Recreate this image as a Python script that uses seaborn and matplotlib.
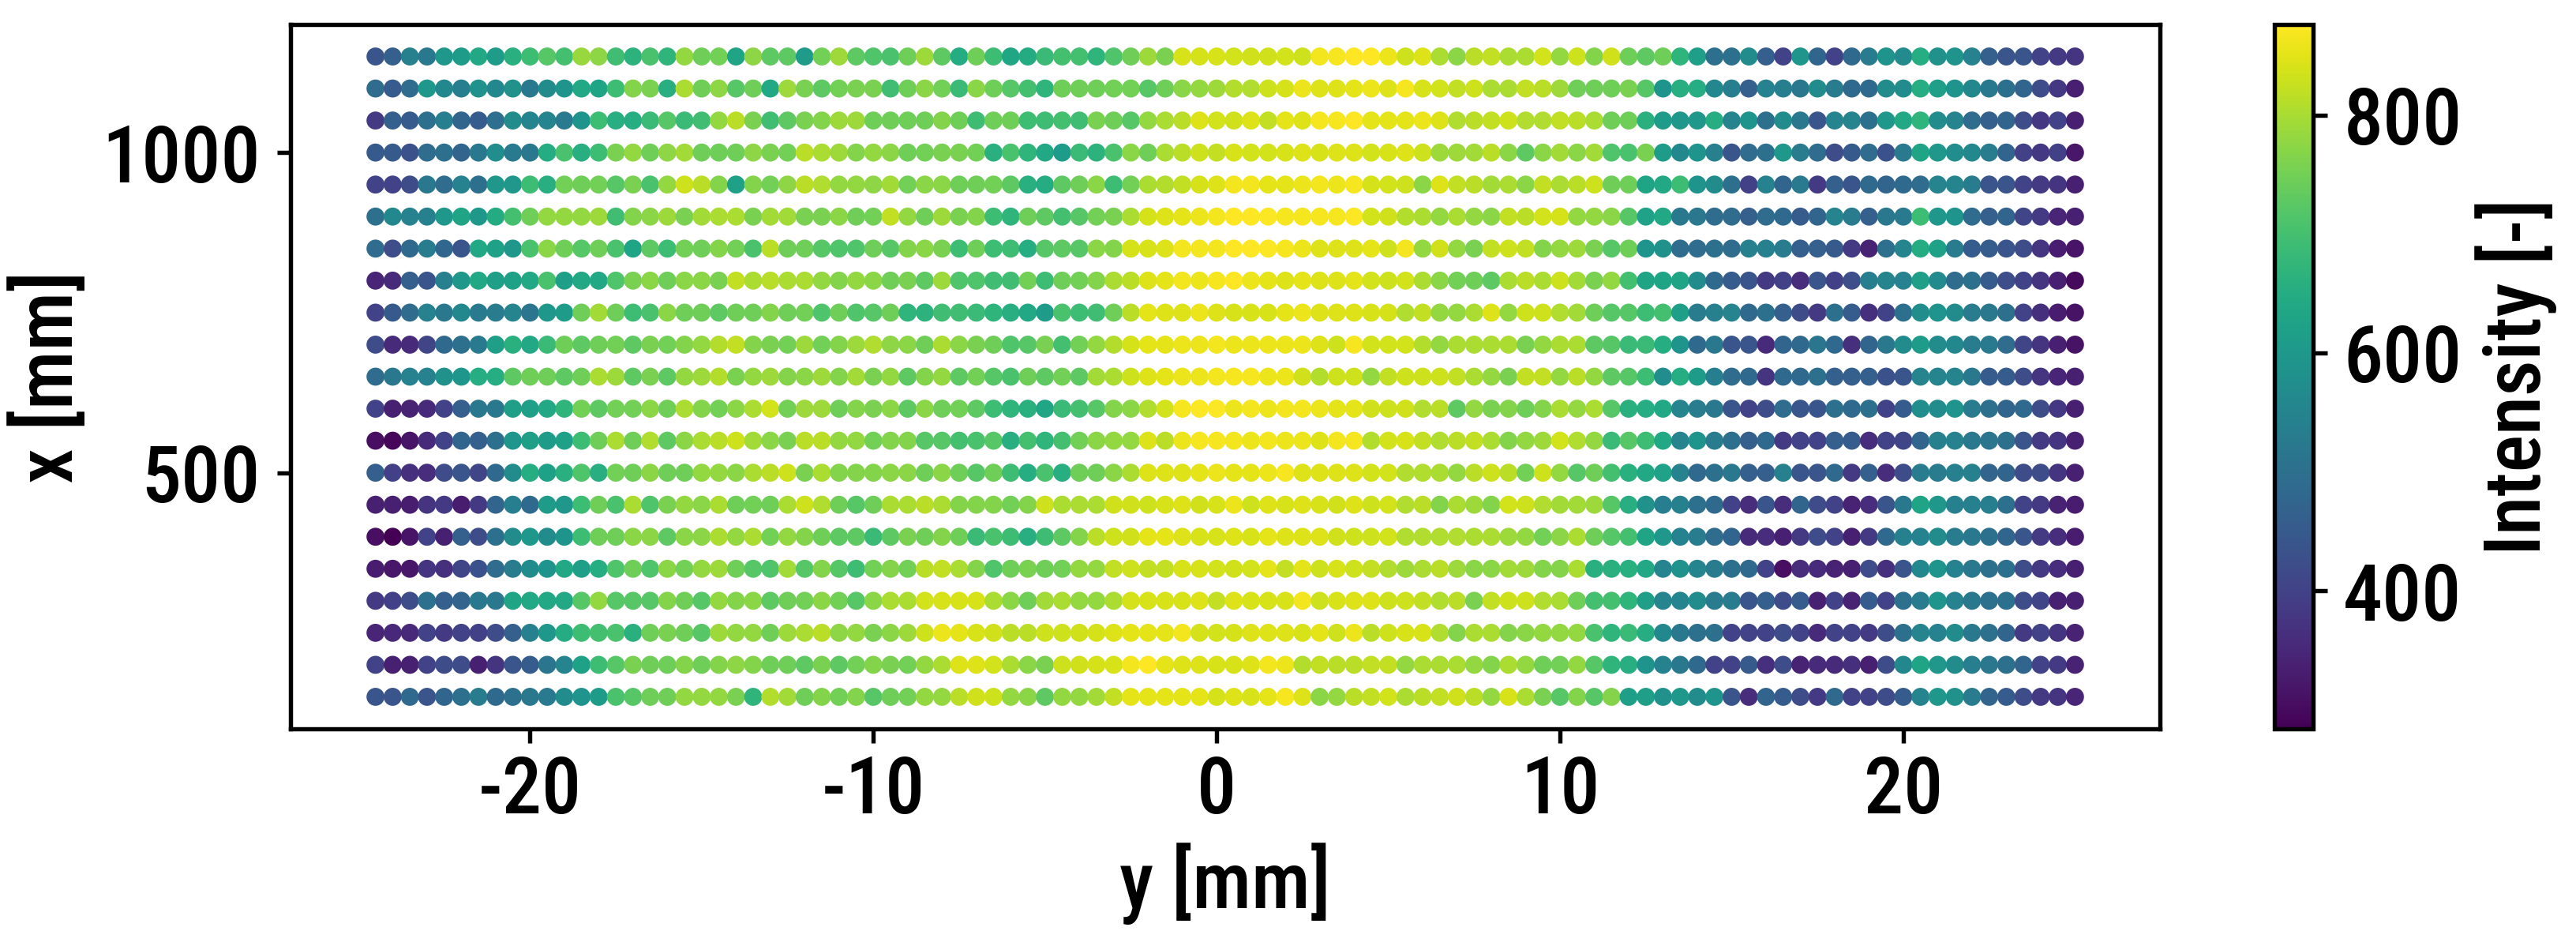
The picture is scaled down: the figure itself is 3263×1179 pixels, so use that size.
import numpy as np
import pandas as pd
import matplotlib
matplotlib.use("Agg")
import matplotlib.pyplot as plt
import seaborn as sns
from matplotlib import font_manager as fm

sns.set_style("white")

# pick a condensed / narrow sans face if one is installed (reference uses a DIN-like condensed face)
_cond = []
for f in fm.fontManager.ttflist:
    if f.style != "normal":
        continue
    nm = f.name
    st = str(f.stretch)
    is_cond = st in ("condensed", "semi-condensed", "extra-condensed", "ultra-condensed") \
        or "Condensed" in nm or "Narrow" in nm
    try:
        w = int(f.weight)
    except Exception:
        w = {"normal": 400, "regular": 400, "medium": 500, "book": 400}.get(str(f.weight), 700)
    if is_cond and 380 <= w <= 520:
        _cond.append((nm, st, w))
_pref = ["Liberation Sans Narrow", "Roboto Condensed", "Noto Sans", "Open Sans", "DejaVu Sans"]
_cond.sort(key=lambda t: (_pref.index(t[0]) if t[0] in _pref else 50, abs(t[2] - 450)))
if _cond:
    FAM, STRETCH = _cond[0][0], _cond[0][1]
    FS = 24
else:
    FAM, STRETCH = "Roboto", "normal"
    FS = 21
plt.rcParams["font.family"] = [FAM, "DejaVu Sans"]
plt.rcParams["font.stretch"] = STRETCH if STRETCH in (
    "condensed", "semi-condensed", "extra-condensed", "ultra-condensed", "normal") else "normal"
plt.rcParams["font.weight"] = "medium"
plt.rcParams["axes.labelweight"] = "medium"
plt.rcParams["axes.unicode_minus"] = False
for k in ("text.color", "axes.labelcolor", "xtick.color", "ytick.color"):
    plt.rcParams[k] = "black"

# ---- data ----
y_mm = np.arange(-24.5, 25.01, 0.5)          # 100 measurement columns
x_rows = [1150, 1100, 1050, 1000, 950, 900, 850, 800, 750, 700, 650,
          600, 550, 500, 450, 400, 350, 300, 250, 200, 150]

i_1150 = [440,460,540,520,600,610,640,610,660,690,720,700,785,775,695,665,705,670,780,745,750,630,775,730,
          730,610,750,790,730,712,705,745,790,730,648,745,690,635,645,685,700,700,670,712,745,790,758,840,838,840,
          835,833,833,835,830,865,868,876,876,858,830,845,800,773,815,822,800,800,835,780,830,765,833,745,730,
          745,670,615,500,500,570,460,400,595,475,400,485,530,590,565,650,580,590,545,460,440,440,400,385,375]
i_1100 = [490,455,490,600,560,535,580,560,580,520,570,590,640,630,690,765,758,655,800,745,775,720,745,640,
          790,758,730,750,758,758,695,745,772,750,685,773,745,720,700,670,745,745,745,750,750,720,745,773,780,790,
          808,805,830,838,858,845,845,852,858,845,868,840,835,822,830,800,800,822,815,790,745,745,745,758,720,
          590,655,650,560,535,460,545,535,520,570,530,485,485,570,570,650,615,590,560,520,500,475,420,380,335]
i_1050 = [385,460,455,500,535,475,455,495,570,550,550,525,590,690,655,650,685,720,685,695,780,815,758,695,
          730,758,765,790,790,745,745,745,745,765,745,692,745,745,690,692,700,695,758,745,720,780,800,815,845,835,
          833,845,822,852,845,868,868,876,852,852,852,858,845,805,815,822,830,805,805,822,815,800,745,745,660,
          610,600,600,650,550,590,500,570,520,440,550,550,500,600,640,670,570,550,490,460,475,420,380,400,335]
i_1000 = [450,450,430,490,500,475,520,575,525,520,648,705,655,690,758,780,745,775,795,745,745,745,775,758,
          750,815,800,790,765,780,773,745,750,758,758,750,660,705,670,640,610,685,665,705,773,745,800,815,830,822,
          840,835,835,840,845,840,845,845,835,840,845,830,790,790,795,815,773,730,773,795,773,795,712,705,758,
          610,560,590,540,440,490,500,600,530,490,420,450,490,430,525,630,600,575,560,530,475,395,380,395,320]
i_950 = [400,400,420,520,490,545,500,600,600,690,655,750,745,750,720,758,705,780,830,815,765,620,765,750,
         775,815,805,780,780,775,795,750,773,773,745,745,750,730,660,648,730,745,773,690,750,800,808,822,838,845,
         865,865,852,852,858,865,858,868,838,835,830,773,845,822,815,795,800,773,822,800,815,830,745,745,630,
         640,690,590,570,500,395,545,475,525,385,460,440,485,475,485,490,550,550,530,440,440,400,385,375,335]
i_900 = [500,560,545,540,600,630,600,645,700,745,780,780,780,790,695,765,773,790,758,795,800,800,758,795,
         795,758,758,773,745,750,822,780,745,790,758,765,690,670,745,730,700,720,750,758,800,838,845,852,858,865,
         874,874,872,868,868,868,868,872,835,833,808,800,780,800,780,773,822,815,835,838,780,780,773,720,625,
         640,520,520,490,490,460,490,485,455,475,550,530,460,520,525,690,600,590,490,460,475,405,385,345,335]
i_850 = [490,425,485,530,480,440,640,620,600,705,772,745,720,745,705,630,730,690,750,745,765,750,705,815,
         745,745,720,712,712,745,720,765,773,758,690,745,690,692,650,720,730,720,773,765,838,840,845,865,865,865,
         876,874,872,868,858,845,845,845,852,830,865,780,833,780,758,822,830,822,765,780,790,758,720,745,590,
         580,490,490,500,490,540,540,530,460,460,450,385,340,500,550,648,620,530,455,455,440,420,375,330,315]
i_800 = [345,355,460,440,540,600,640,615,620,640,705,615,640,640,712,758,773,745,773,773,758,822,800,812,
         800,800,780,765,780,773,745,758,730,790,712,712,695,695,750,690,745,750,765,800,815,845,852,865,858,868,
         874,858,852,845,852,845,845,852,835,830,835,800,773,750,745,730,800,815,800,830,795,758,780,700,630,
         630,630,570,485,455,440,385,395,360,440,395,425,535,550,545,615,565,490,500,455,425,400,375,335,300]
i_750 = [400,450,490,545,520,560,525,530,550,515,600,610,745,795,745,690,705,773,745,745,730,745,745,765,
         745,750,712,745,712,720,745,670,665,695,695,685,670,655,640,610,705,690,695,745,815,852,845,845,858,845,
         840,840,840,852,858,845,845,845,840,838,805,822,780,780,800,845,780,830,830,805,795,745,720,720,690,
         700,615,530,540,550,485,500,460,420,385,500,455,365,400,500,575,590,570,530,520,500,400,365,330,312]
i_700 = [420,355,355,405,485,500,525,615,660,640,685,745,730,745,750,730,758,750,765,780,808,822,765,758,
         750,790,750,765,790,805,775,773,745,800,773,758,745,712,720,758,700,750,780,808,838,852,852,858,858,865,
         858,858,858,858,858,845,830,868,835,835,835,808,780,800,800,800,800,758,780,800,800,730,720,685,685,
         650,590,485,520,440,440,355,475,485,515,485,365,475,520,570,610,570,560,530,525,490,405,375,335,312]
i_650 = [490,520,545,545,580,595,650,650,730,745,745,730,745,800,790,730,758,730,780,790,808,758,780,790,
         765,773,790,765,795,758,780,730,765,780,730,750,720,705,745,730,750,730,795,800,830,845,852,858,858,865,
         868,868,858,858,833,808,830,830,780,822,830,830,830,822,800,780,758,822,822,780,815,780,730,720,690,
         575,650,610,535,490,485,375,485,485,500,460,460,460,430,440,550,550,550,520,455,455,420,375,345,335]
i_600 = [400,335,340,355,400,460,520,520,615,615,640,670,750,730,750,750,773,745,800,765,750,773,800,835,
         750,790,790,745,765,758,773,730,773,745,750,730,690,670,660,635,685,700,720,765,773,805,835,868,872,872,
         858,865,858,865,865,858,852,852,833,830,833,805,815,730,780,758,765,745,765,800,780,800,720,660,650,
         640,550,530,520,440,400,420,490,440,440,500,485,500,400,455,575,570,590,530,500,475,485,420,380,335]
i_550 = [305,295,315,355,400,475,460,500,595,615,610,620,690,745,800,745,805,730,773,800,815,830,795,773,
         758,815,815,780,780,750,765,765,720,720,700,705,720,655,700,670,700,750,773,780,780,845,815,858,868,868,
         865,858,865,858,858,845,865,868,808,835,840,822,805,815,822,800,765,780,790,835,805,780,685,720,690,
         640,550,590,530,500,460,485,385,400,400,460,455,360,400,405,475,540,545,520,515,500,440,385,375,335]
i_500 = [460,395,365,360,420,440,405,485,570,650,620,660,712,655,750,745,773,745,745,780,780,773,800,815,
         830,758,800,765,765,765,773,773,745,773,745,720,745,692,650,705,655,745,745,773,800,845,845,845,852,858,
         852,852,858,868,845,845,845,845,835,835,805,805,800,780,815,830,815,750,830,780,720,745,700,660,640,
         625,545,485,500,520,460,460,540,440,440,485,385,460,360,420,530,530,540,540,475,475,420,420,375,335]
i_450 = [335,335,330,375,385,330,385,475,535,485,610,600,690,745,705,800,712,758,780,773,800,745,750,745,
         800,830,805,745,720,745,800,800,815,800,765,765,765,750,765,830,800,800,800,833,833,830,840,845,833,840,
         858,830,845,840,845,840,833,845,830,835,805,815,765,800,790,765,835,830,805,795,795,790,720,655,580,
         535,540,500,485,400,360,440,360,475,420,400,340,360,440,520,630,600,540,540,535,500,400,385,340,330]
i_400 = [305,285,315,400,335,460,420,500,570,600,570,590,690,745,745,773,773,730,773,773,800,780,800,750,
         780,765,745,730,730,685,730,758,745,765,745,685,705,692,655,692,730,765,815,830,833,852,852,845,840,840,
         845,840,852,845,845,845,833,830,830,835,805,805,805,805,800,800,790,780,750,773,800,745,720,700,630,
         600,545,530,490,475,355,360,335,385,420,400,335,385,485,540,545,570,530,520,500,475,440,385,360,330]
i_350 = [330,320,320,375,365,405,430,490,530,570,590,640,615,650,712,745,712,773,750,780,790,745,720,712,
         795,720,765,720,692,750,765,750,815,822,800,765,712,745,758,745,750,780,780,822,830,822,822,840,840,835,
         833,835,852,822,852,830,840,830,822,805,790,800,815,790,773,773,795,790,765,765,800,660,660,660,640,
         550,580,550,530,500,485,400,305,360,355,340,335,420,365,440,560,590,545,520,500,500,420,385,360,335]
i_300 = [385,395,420,500,460,475,520,520,630,640,640,640,720,780,720,720,720,765,745,720,780,765,773,730,
         745,750,773,750,720,773,800,800,835,840,840,840,800,773,745,795,800,780,780,800,838,840,840,840,845,822,
         845,840,840,840,865,830,840,845,845,830,830,822,805,815,758,822,830,830,805,800,745,700,700,670,615,
         550,550,570,530,530,440,460,420,455,335,400,340,455,400,500,530,590,545,520,500,500,420,405,335,335]
i_250 = [345,350,350,400,385,400,395,420,460,540,600,648,690,700,705,660,745,758,745,720,790,780,780,745,
         790,800,815,775,780,758,773,790,830,858,852,840,833,815,815,830,830,833,838,845,852,852,852,865,838,835,
         838,845,845,845,840,852,830,858,815,830,840,840,805,765,800,800,765,773,780,780,780,705,670,685,650,
         560,520,500,500,400,400,400,420,400,355,400,400,385,420,500,550,545,570,520,500,475,385,400,375,340]
i_200 = [400,335,335,400,420,420,335,375,440,455,515,550,620,690,720,758,745,745,765,745,765,775,765,745,
         745,730,758,730,750,765,758,750,780,800,845,845,835,800,773,758,830,833,838,840,865,874,852,845,845,840,
         840,845,865,858,808,822,815,815,822,822,780,800,800,800,780,765,800,780,745,750,780,720,670,655,590,
         545,520,485,400,400,450,365,420,340,355,355,365,335,420,560,630,600,570,535,520,500,475,400,385,340]
i_150 = [440,440,485,440,475,500,530,485,500,520,525,570,590,610,705,720,745,745,780,780,780,758,670,808,
         795,745,765,750,765,720,745,750,780,780,815,833,830,780,773,730,780,780,795,822,852,852,852,852,852,838,
         845,840,852,868,845,773,780,815,822,835,800,815,822,833,815,780,840,800,758,720,765,720,765,615,615,
         580,600,570,590,440,360,475,455,420,385,485,400,400,420,455,550,600,580,530,475,455,420,385,375,345]

rows = [i_1150, i_1100, i_1050, i_1000, i_950, i_900, i_850, i_800, i_750, i_700, i_650,
        i_600, i_550, i_500, i_450, i_400, i_350, i_300, i_250, i_200, i_150]

records = []
for xr, r in zip(x_rows, rows):
    for yy, v in zip(y_mm, r):
        records.append((yy, xr, v))
df = pd.DataFrame(records, columns=["y", "x", "intensity"])

vmin, vmax = 284, 876

# ---- figure ----
W, H, DPI = 3263, 1179, 300
fig = plt.figure(figsize=(W / DPI, H / DPI), dpi=DPI)
ax = fig.add_axes([368 / W, 1 - 923 / H, (2736 - 368) / W, (923 - 31) / H])

sns.scatterplot(data=df, x="y", y="x", hue="intensity", palette="viridis",
                hue_norm=(vmin, vmax), s=30, linewidth=0, legend=False, ax=ax)

ax.set_xlabel("y [mm]", fontsize=FS, color="black")
ax.set_ylabel("x [mm]", fontsize=FS, color="black")
ax.set_xticks([-20, -10, 0, 10, 20])
ax.set_yticks([500, 1000])
ax.tick_params(axis="both", which="major", bottom=True, left=True, direction="out",
               length=4.2, width=1.3, color="black", labelsize=FS, labelcolor="black")
ax.tick_params(axis="y", pad=5)
for sp in ax.spines.values():
    sp.set_visible(True)
    sp.set_color("black")
    sp.set_linewidth(1.3)

cax = fig.add_axes([2881 / W, 1 - 923 / H, (2930 - 2881) / W, (923 - 31) / H])
sm = plt.cm.ScalarMappable(cmap="viridis", norm=plt.Normalize(vmin, vmax))
cb = fig.colorbar(sm, cax=cax)
cb.set_ticks([400, 600, 800])
cb.ax.tick_params(length=4.2, width=1.3, color="black", labelsize=FS, labelcolor="black",
                  right=True, direction="out", pad=5)
cb.outline.set_linewidth(1.3)
cb.outline.set_edgecolor("black")
cb.set_label("Intensity [-]", fontsize=FS, color="black")

fig.savefig("out.png", dpi=DPI)
